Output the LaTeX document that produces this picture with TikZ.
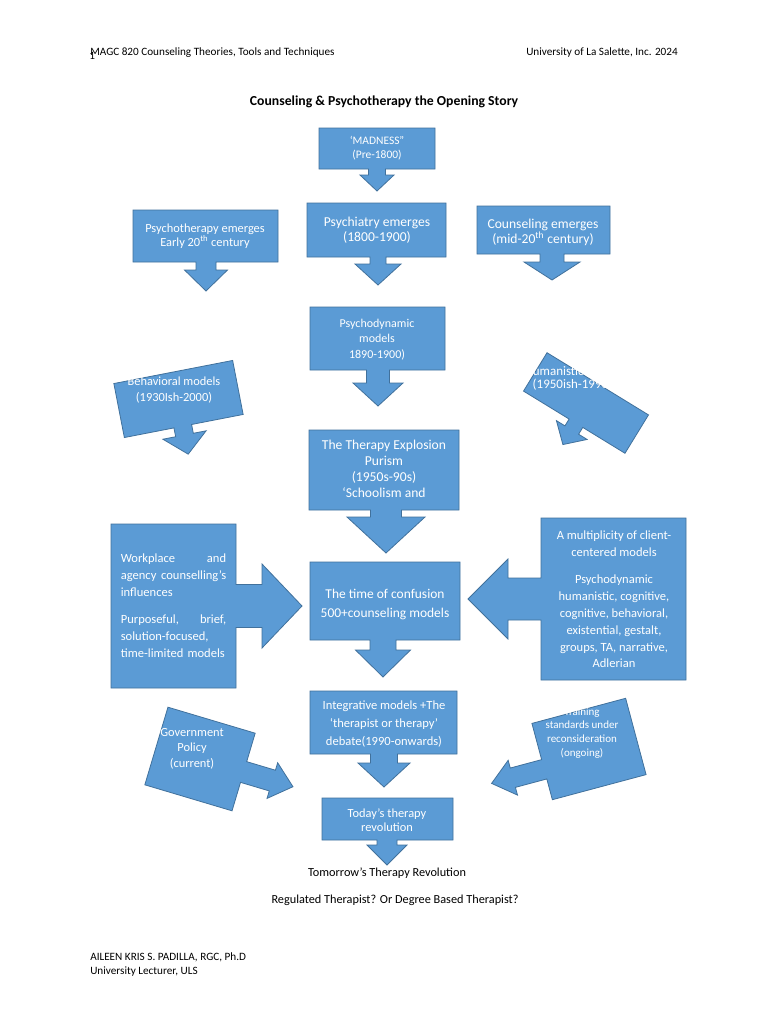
\documentclass[tikz,border=0pt]{standalone}
\usepackage{fontspec}
\setmainfont{Carlito}
\definecolor{boxblue}{RGB}{91,155,213}
\definecolor{boxline}{RGB}{65,113,156}

% box with an arrow under it:
% centre, width, height, arrow offset, shaft half width, shaft length,
% head half width, head length, rotation
\newcommand{\callout}[9]{%
  \begin{scope}[shift={(#1)},rotate=#9]
    \draw[calloutshape] ({-#2/2},{-#3/2}) -- ({#2/2},{-#3/2}) -- ({#2/2},{#3/2})
      -- ({#4+#5},{#3/2}) -- ({#4+#5},{#3/2+#6}) -- ({#4+#7},{#3/2+#6})
      -- ({#4},{#3/2+#6+#8}) -- ({#4-#7},{#3/2+#6}) -- ({#4-#5},{#3/2+#6})
      -- ({#4-#5},{#3/2}) -- ({-#2/2},{#3/2}) -- cycle;
  \end{scope}}

\begin{document}
\begin{tikzpicture}
  [x=0.75pt,y=-0.75pt,
   calloutshape/.style={fill=boxblue,draw=boxline,line width=0.6pt},
   boxtext/.style={text=white,align=center,inner sep=0pt},
   pagetext/.style={text=black,inner sep=0pt,font=\fontsize{8.4}{11.25}\selectfont}]
  \fill[white] (0,0) rectangle (768,1024);
  \useasboundingbox (0,0) rectangle (768,1024);

  % page header and footer
  \node[pagetext,anchor=west] (course) at (90,53) {MAGC 820 Counseling Theories, Tools and Techniques};
  \node[pagetext,anchor=west] (pagenum) at (89,56) {1};
  \node[pagetext,anchor=east] (univ) at (678,53) {University of La Salette, Inc. 2024};
  \node[pagetext,font=\bfseries\fontsize{10.3}{12}\selectfont] (title) at (384,102) {Counseling \& Psychotherapy the Opening Story};
  \node[pagetext,anchor=west] (author) at (90,957) {AILEEN KRIS S. PADILLA, RGC, Ph.D};
  \node[pagetext,anchor=west] (lecturer) at (90,972) {University Lecturer, ULS};

  % the shapes
  \callout{377,148.5}{116}{41}{0}{8.5}{6}{17}{16}{0}
  \callout{376.5,230}{139}{54}{1.5}{8}{7}{23}{21}{0}
  \callout{205.5,236}{145}{52}{0.5}{10}{8}{21.5}{21}{0}
  \callout{543.5,230}{133}{48}{8.5}{12}{8}{28}{18}{0}
  \callout{377.5,338.5}{135}{63}{0.5}{11.5}{13}{25}{23}{0}
  \callout{178.5,399}{121}{55}{-1}{9}{9}{22}{19.5}{11}
  \callout{586,403}{119}{45}{2}{8}{8}{18}{17}{-31.5}
  \callout{384,470}{150}{80}{2}{15.5}{7}{39}{36}{0}
  \callout{173.5,606}{164}{125}{0}{21.5}{26}{42}{40}{90}
  \callout{385,601}{150}{78}{-2}{13}{10}{27.5}{27}{0}
  \callout{613.5,599}{162}{145}{0}{21}{33}{40}{40}{-90}
  \callout{383.5,722.5}{147}{63}{0.5}{13.5}{9}{26}{24}{0}
  \callout{387.5,819}{131}{42}{-0.5}{10}{5}{20}{20}{0}
  \callout{200,759}{81}{91}{0}{10.8}{30}{18.6}{21.5}{73.4}
  \callout{589,749}{79}{97}{8}{10}{32.5}{18}{22}{-75}

  % texts in the shapes
  \node[boxtext,font=\fontsize{8.6}{10.9}\selectfont] (madness) at (377,148) {‘MADNESS”\\(Pre-1800)};
  \node[boxtext,font=\fontsize{10.2}{11}\selectfont] (psychiatry) at (377,230) {Psychiatry emerges\\(1800-1900)};
  \node[boxtext,font=\fontsize{9.3}{10.9}\selectfont] (psychotherapy) at (205,236) {Psychotherapy emerges\\Early 20\textsuperscript{th} century};
  \node[boxtext,font=\fontsize{10.2}{11.2}\selectfont] (counseling) at (543,232.5) {Counseling emerges\\(mid-20\textsuperscript{th} century)};
  \node[boxtext,font=\fontsize{9}{11.6}\selectfont] (psychodynamic) at (377,339.5) {Psychodynamic\\models\\1890-1900)};
  \node[boxtext,font=\fontsize{9.3}{12}\selectfont] (behavioral) at (174,390) {Behavioral models\\(1930Ish-2000)};
  \node[boxtext,font=\fontsize{9.75}{9.6}\selectfont] (humanistic) at (575,378) {Humanistic models\\(1950ish-1990s)};
  \node[boxtext,font=\fontsize{10.2}{12}\selectfont] (explosion) at (384,469) {The Therapy Explosion\\Purism\\(1950s-90s)\\‘Schoolism and};
  \node[boxtext,align=left,text width=79pt,font=\fontsize{9.4}{12.75}\selectfont] (workplace) at (173.5,606)
    {Workplace\hfill and\\agency\hfill counselling’s\\influences\\[7.5pt]Purposeful,\hfill brief,\\solution-focused,\\time-limited models};
  \node[boxtext,font=\fontsize{10.1}{14.25}\selectfont] (confusion) at (385,604) {The time of confusion\\500+counseling models};
  \node[boxtext,font=\fontsize{9.4}{12.6}\selectfont] (multiplicity) at (614,599.5)
    {A multiplicity of client-\\centered models\\[8pt]Psychodynamic\\humanistic, cognitive,\\cognitive, behavioral,\\existential, gestalt,\\groups, TA, narrative,\\Adlerian};
  \node[boxtext,font=\fontsize{9.4}{13.5}\selectfont] (integrative) at (384,724.5) {Integrative models +The\\‘therapist or therapy’\\debate(1990-onwards)};
  \node[boxtext,font=\fontsize{9.3}{10.5}\selectfont] (today) at (387,820) {Today’s therapy\\revolution};
  \node[boxtext,font=\fontsize{9.3}{11.6}\selectfont] (government) at (192,748.5) {Government\\Policy\\(current)};
  \node[boxtext,font=\fontsize{8.25}{10.3}\selectfont] (training) at (582,733) {Training\\standards under\\reconsideration\\(ongoing)};

  % texts below
  \node[pagetext,font=\fontsize{9.2}{11}\selectfont] (tomorrow) at (387,873) {Tomorrow’s Therapy Revolution};
  \node[pagetext,font=\fontsize{9.2}{11}\selectfont] (regulated) at (395,900) {Regulated Therapist? Or Degree Based Therapist?};
\end{tikzpicture}
\end{document}
